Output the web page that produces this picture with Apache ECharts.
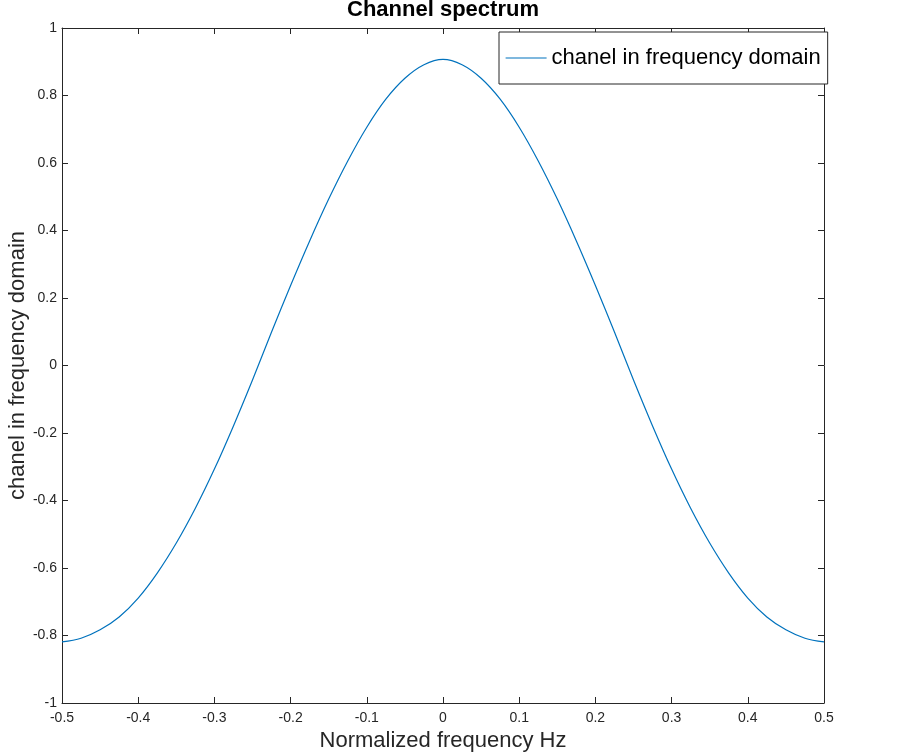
<!DOCTYPE html>
<html>
<head>
<meta charset="utf-8">
<title>Channel spectrum</title>
<script src="https://cdn.jsdelivr.net/npm/echarts@6/dist/echarts.min.js"></script>
<style>
  html, body { margin: 0; padding: 0; background: #fff; }
  #main { width: 903px; height: 755px; }
</style>
</head>
<body>
<div id="main"></div>
<script>
// 频率轴 (归一化频率)
var freq = [
  -0.500, -0.475, -0.450, -0.425, -0.400, -0.375, -0.350, -0.325, -0.300, -0.275,
  -0.250, -0.225, -0.200, -0.175, -0.150, -0.125, -0.100, -0.075, -0.050, -0.025,
   0.000,  0.025,  0.050,  0.075,  0.100,  0.125,  0.150,  0.175,  0.200,  0.225,
   0.250,  0.275,  0.300,  0.325,  0.350,  0.375,  0.400,  0.425,  0.450,  0.475,
   0.500
]
// 读图得到的信道频响
var chanel = [
  -0.819, -0.808, -0.783, -0.745, -0.689, -0.615, -0.526, -0.423, -0.307, -0.179,
  -0.043,  0.099,  0.237,  0.369,  0.493,  0.606,  0.706,  0.789,  0.851,  0.891,
   0.907,  0.891,  0.851,  0.789,  0.706,  0.606,  0.493,  0.369,  0.237,  0.099,
  -0.043, -0.179, -0.307, -0.423, -0.526, -0.615, -0.689, -0.745, -0.783, -0.808,
  -0.819
]
var xTicks = { min: -0.5, max: 0.5, step: 0.1 }
var yTicks = { min: -1, max: 1, step: 0.2 }

var FONT = '"Liberation Sans", Arial, Helvetica, sans-serif'
var AX = '#262626'

var points = []
for (var i = 0; i < freq.length; i++) {
  points.push([freq[i], chanel[i]])
}

function makeAxis(pos, showLabel, range, margin) {
  return {
    type: 'value',
    position: pos,
    min: range.min,
    max: range.max,
    interval: range.step,
    axisLine: { show: true, onZero: false, lineStyle: { color: AX, width: 1 } },
    axisTick: { show: true, inside: true, length: 6, lineStyle: { color: AX, width: 1 } },
    axisLabel: {
      show: showLabel,
      margin: margin,
      color: AX,
      fontSize: 14,
      fontFamily: FONT
    },
    splitLine: { show: false }
  }
}

var xBottom = makeAxis('bottom', true, xTicks, 8)
xBottom.name = 'Normalized frequency Hz'
xBottom.nameLocation = 'middle'
xBottom.nameGap = 27
xBottom.nameMoveOverlap = false
xBottom.nameTextStyle = { color: AX, fontSize: 22, fontFamily: FONT }

var yLeft = makeAxis('left', true, yTicks, 5)
yLeft.name = 'chanel in frequency domain'
yLeft.nameLocation = 'middle'
yLeft.nameGap = 33
yLeft.nameMoveOverlap = false
yLeft.nameTextStyle = { color: AX, fontSize: 22, fontFamily: FONT }

var myChart = echarts.init(document.getElementById('main'))
myChart.setOption({
  animation: false,
  backgroundColor: '#fff',
  title: {
    text: 'Channel spectrum',
    left: 443,
    top: -1,
    padding: 0,
    textAlign: 'center',
    textStyle: { color: '#000', fontSize: 22, fontWeight: 'bold', fontFamily: FONT }
  },
  legend: {
    left: 499,
    top: 32,
    padding: [15, 7, 15, 6],
    backgroundColor: '#fff',
    borderColor: AX,
    borderWidth: 1,
    itemWidth: 41,
    itemHeight: 14,
    itemStyle: { opacity: 0 },
    lineStyle: { color: '#0072BD', width: 1.2 },
    textStyle: { color: '#000', fontSize: 22, fontFamily: FONT },
    data: ['chanel in frequency domain']
  },
  grid: {
    left: 62, right: 79, top: 28, bottom: 52,
    containLabel: false,
    outerBoundsMode: 'none'
  },
  xAxis: [xBottom, makeAxis('top', false, xTicks, 8)],
  yAxis: [yLeft, makeAxis('right', false, yTicks, 5)],
  series: [{
    name: 'chanel in frequency domain',
    type: 'line',
    xAxisIndex: 0,
    yAxisIndex: 0,
    data: points,
    smooth: 0.35,
    symbol: 'none',
    lineStyle: { color: '#0072BD', width: 1.2 },
    itemStyle: { color: '#0072BD' }
  }]
})
</script>
</body>
</html>
